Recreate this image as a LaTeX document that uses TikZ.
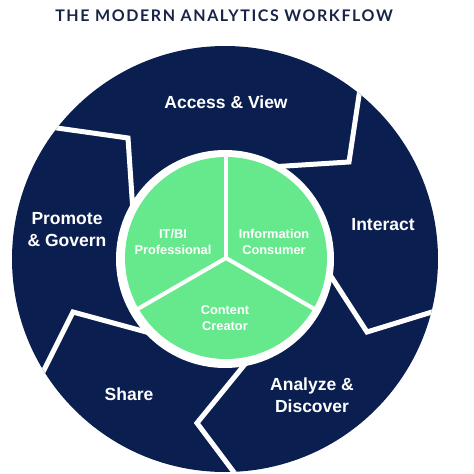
\documentclass[tikz,border=0pt]{standalone}
\usepackage{fontspec}
\setmainfont{Liberation Sans}
\newfontfamily\titlefont[LetterSpace=10]{Lato}
\definecolor{navy}{RGB}{10,31,80}
\definecolor{mint}{RGB}{102,232,140}
\definecolor{titleblue}{RGB}{23,36,71}
\tikzset{
  sepline/.style={draw=white, line width=5pt, line join=miter},
  ringlabel/.style={text=white, align=center, inner sep=0pt, font=\bfseries\fontsize{17.5}{22}\selectfont},
  corelabel/.style={text=white, align=center, inner sep=0pt, font=\bfseries\fontsize{12.8}{16.5}\selectfont},
  coreline/.style={draw=white, line width=4pt}
}
\begin{document}
\begin{tikzpicture}[x=1pt,y=-1pt]
\useasboundingbox (0,0) rectangle (474,474);
\coordinate (c) at (225,259);
\coordinate (g) at (226,258);
\fill[navy] (c) circle[radius=213];
\begin{scope}
  \clip (c) circle[radius=213];
  \draw[sepline] (47,126.6) -- (128,138) -- (133,212);
  \draw[sepline] (361,82) -- (349,162) -- (270,167);
  \draw[sepline] (325,267) -- (367,332) -- (445,308);
  \draw[sepline] (250,358) -- (197,423) -- (242,483);
  \draw[sepline] (37,384) -- (73,312) -- (150,333);
\end{scope}
\fill[white] (c) circle[radius=109];
\fill[mint] (g) circle[radius=101];
\draw[coreline] (g) -- ++(0,-104);
\draw[coreline] (g) -- ++(150:104);
\draw[coreline] (g) -- ++(30:104);
\node[text=titleblue, font=\titlefont\bfseries\fontsize{16}{19}\selectfont] (title) at (224,16) {THE MODERN ANALYTICS WORKFLOW};
\node[ringlabel] (access) at (226,102) {Access \& View};
\node[ringlabel] (interact) at (383,225) {Interact};
\node[ringlabel] (analyze) at (312,395) {Analyze \&\\Discover};
\node[ringlabel] (share) at (129,394) {Share};
\node[ringlabel] (promote) at (67,230) {Promote\\\& Govern};
\node[corelabel] (itbi) at (173,242) {IT/BI\\Professional};
\node[corelabel] (info) at (274,242) {Information\\Consumer};
\node[corelabel] (content) at (225,318) {Content\\Creator};
\end{tikzpicture}
\end{document}
